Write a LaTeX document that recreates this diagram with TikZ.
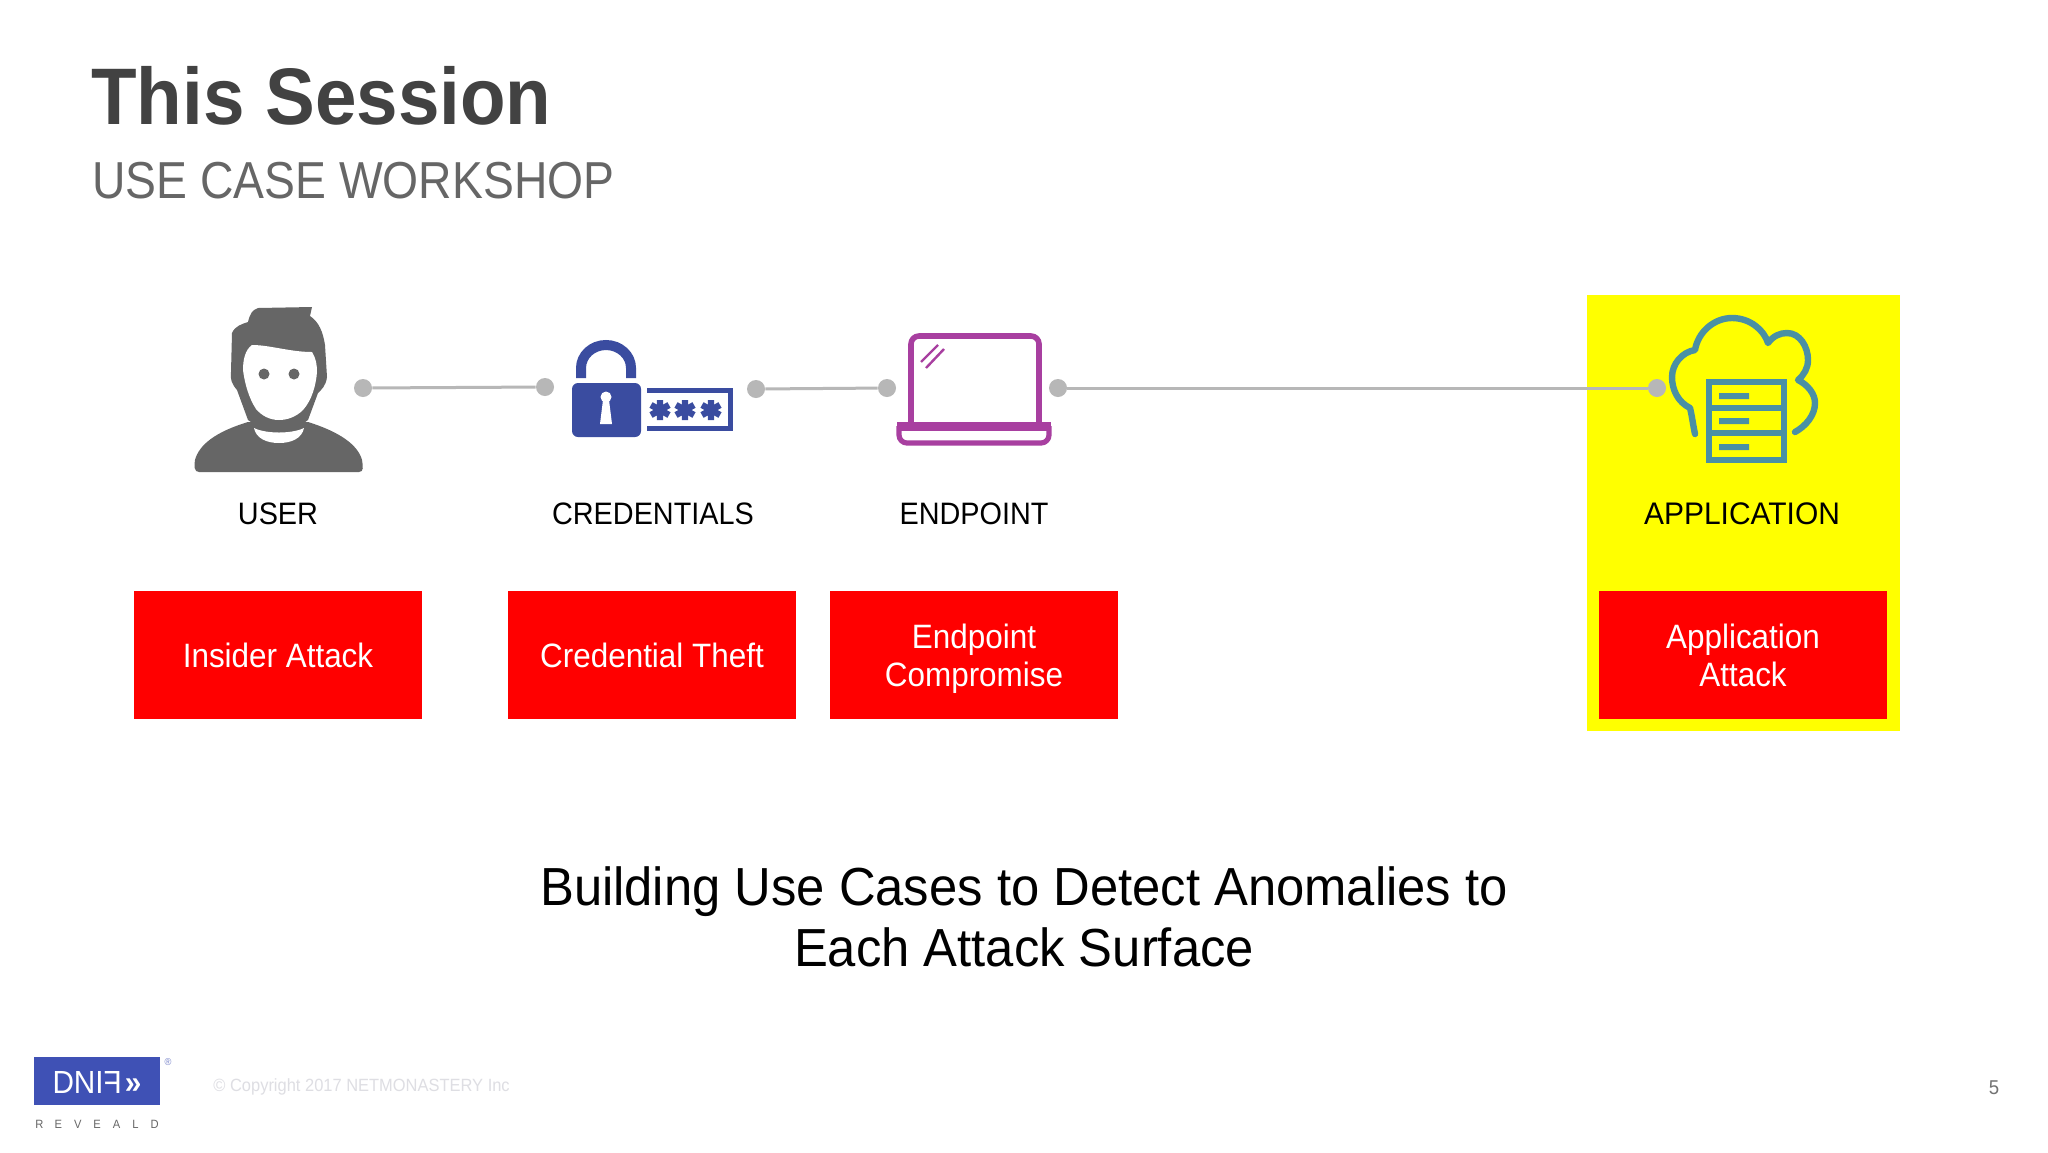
\documentclass[tikz,border=0pt]{standalone}
\usepackage{fontspec}
\setmainfont[FakeStretch=0.93]{Liberation Sans}
\newfontfamily\subfont[FakeStretch=0.89]{Liberation Sans}
\newfontfamily\msgfont[FakeStretch=0.947]{Liberation Sans}
\newfontfamily\appfont[FakeStretch=0.96]{Liberation Sans}
\definecolor{titlegrey}{HTML}{424242}
\definecolor{subgrey}{HTML}{666666}
\definecolor{linegrey}{HTML}{B7B7B7}
\definecolor{persongrey}{HTML}{666666}
\definecolor{lockblue}{HTML}{3A4CA0}
\definecolor{lappurple}{HTML}{A83FA0}
\definecolor{cloudteal}{HTML}{4A90A4}
\definecolor{logoblue}{HTML}{3F51B5}
\definecolor{copygrey}{HTML}{DEDEE3}
\definecolor{hlyellow}{HTML}{FFFF00}
\definecolor{boxred}{HTML}{FF0000}
\tikzset{
  px/.style={x=0.5pt,y=-0.5pt},
  redbox/.style={fill=boxred,text=white,minimum width=144pt,minimum height=64pt,inner sep=0pt,align=center,font=\fontsize{16.9}{18.6}\selectfont},
  dotnode/.style={circle,fill=linegrey,minimum size=9pt,inner sep=0pt},
  linkline/.style={draw=linegrey,line width=1.5pt},
  iconlabel/.style={anchor=base,inner sep=0pt,font=\fontsize{15.5}{18}\selectfont,text=black},
  tealline/.style={draw=cloudteal,line width=3.2pt},
  lapline/.style={draw=lappurple,line width=2.8pt,line join=round},
}
\begin{document}
\begin{tikzpicture}[px]
\useasboundingbox (0,0) rectangle (2048,1152);
\fill[white] (0,0) rectangle (2048,1152);
% title
\node[anchor=base west,inner sep=0pt,text=titlegrey,font=\fontsize{40.1}{44}\bfseries\selectfont] (title) at (91,124) {This Session};
\node[anchor=base west,inner sep=0pt,text=subgrey,font=\subfont\fontsize{26}{30}\selectfont] (subtitle) at (92,198) {USE CASE WORKSHOP};
% yellow highlight
\fill[hlyellow] (1587,295) rectangle (1900,731);
% person
\fill[persongrey] (312,307) -- (310,316) .. controls (319,322) and (323,332) .. (325,345) -- (327,377) .. controls (326,386) and (321,390) .. (318,393) -- (308,420) .. controls (298,428) and (288,430) .. (279,430) .. controls (268,430) and (256,426) .. (248,420) -- (237,390) .. controls (232,384) and (230,380) .. (231,372) -- (232,333) .. controls (235,326) and (242,324) .. (248,322) .. controls (250,314) and (252,310) .. (258,308) -- cycle;
\fill[persongrey] (199,472) .. controls (194,472) and (194,466) .. (195,460) .. controls (199,445) and (215,432) .. (248,422) -- (308,422) .. controls (340,432) and (358,445) .. (362,460) .. controls (363,466) and (364,472) .. (359,472) -- cycle;
\fill[white] (252,345) .. controls (270,345) and (290,352) .. (312,352) .. controls (316,358) and (317,365) .. (317,372) .. controls (316,385) and (312,400) .. (303,410) .. controls (296,417) and (287,420) .. (279,420) .. controls (270,420) and (262,416) .. (256,409) .. controls (249,398) and (245,385) .. (243,370) .. controls (243,360) and (245,350) .. (252,345) -- cycle;
\fill[persongrey] (264,374) circle[radius=5.5] (294,374) circle[radius=5.5];
\fill[white] (254,428) .. controls (266,434) and (292,434) .. (304,428) .. controls (302,438) and (292,443) .. (279,443) .. controls (266,443) and (256,438) .. (254,428) -- cycle;
% lock
\draw[lockblue,line width=5pt] (581,378) -- (581,368) arc[start angle=180,end angle=360,x radius=25,y radius=23] -- (631,378);
\fill[lockblue,rounded corners=3pt] (572,383) rectangle (641,437);
\fill[white] (606,397) circle[radius=5.5];
\fill[white] (603,400) -- (609,400) -- (612,424) -- (600,424) -- cycle;
\fill[white] (647,388) rectangle (733,431);
\draw[lockblue,line width=2.4pt] (647,390.5) -- (730.5,390.5) -- (730.5,428.5) -- (647,428.5);
\foreach \sx in {660,685,711}{
  \draw[lockblue,line width=3.2pt] (\sx,400) -- (\sx,420) (\sx-9,405) -- (\sx+9,415) (\sx-9,415) -- (\sx+9,405);
}
% laptop
\draw[lapline,rounded corners=4pt] (911,423) -- (911,336) -- (1039,336) -- (1039,423);
\fill[white,rounded corners=3pt] (899,426) rectangle (1049,444);
\draw[lapline,rounded corners=4pt,line width=2.6pt] (899,426) -- (899,443) -- (1049,443) -- (1049,426);
\fill[lappurple] (897,422) rectangle (1051,431);
\draw[lappurple,line width=1.2pt] (921,362) -- (938,345) (926,368) -- (944,349);
% cloud with server
\draw[tealline,line cap=round,line join=round] (1695,434) .. controls (1693,425) and (1692,416) .. (1690,408) .. controls (1678,402) and (1672,390) .. (1672,377) .. controls (1672,364) and (1682,352) .. (1695,350) .. controls (1698,332) and (1714,318) .. (1732,318) .. controls (1750,318) and (1764,330) .. (1768,343) .. controls (1773,336) and (1780,333) .. (1787,333) .. controls (1800,333) and (1808,347) .. (1808,360) .. controls (1808,368) and (1804,375) .. (1798,380) .. controls (1808,385) and (1815,394) .. (1815,403) .. controls (1815,415) and (1806,426) .. (1795,432);
\draw[draw=cloudteal,line width=3pt] (1709,382) rectangle (1784,460);
\draw[draw=cloudteal,line width=3pt] (1709,408) -- (1784,408) (1709,433) -- (1784,433);
\fill[cloudteal] (1719,393) rectangle (1749,399) (1719,418) rectangle (1749,424) (1719,444) rectangle (1749,450);
% connectors
\node[dotnode] (d1) at (363,388) {};
\node[dotnode] (d2) at (545,387) {};
\node[dotnode] (d3) at (756,389) {};
\node[dotnode] (d4) at (887,388) {};
\node[dotnode] (d5) at (1058,388) {};
\node[dotnode] (d6) at (1657,388) {};
\draw[linkline] (d1) -- (d2);
\draw[linkline] (d3) -- (d4);
\draw[linkline] (d5) -- (d6);
% icon labels
\node[iconlabel] (luser) at (278,524) {USER};
\node[iconlabel] (lcred) at (653,524) {CREDENTIALS};
\node[iconlabel] (lend) at (974,524) {ENDPOINT};
\node[iconlabel,font=\appfont\fontsize{15.6}{18}\selectfont] (lapp) at (1742,524) {APPLICATION};
% red boxes
\node[redbox] (b1) at (278,655) {Insider Attack};
\node[redbox] (b2) at (652,655) {Credential Theft};
\node[redbox,text depth=0pt] (b3) at (974,655) {\raisebox{0.2pt}{\shortstack{Endpoint\\[0.3pt]Compromise}}};
\node[redbox,text depth=0pt] (b4) at (1743,655) {\raisebox{0.2pt}{\shortstack{Application\\[0.3pt]Attack}}};
% message
\node[inner sep=0pt,align=center,text=black,font=\msgfont\fontsize{26.8}{30.5}\selectfont] (msg) at (1024,917) {Building Use Cases to Detect Anomalies to\\Each Attack Surface};
% footer
\fill[logoblue] (34,1057) rectangle (160,1105);
\node[inner sep=0pt,text=white,font=\fontsize{16}{18}\selectfont] (logo) at (97,1082) {DNI\reflectbox{F}\hspace{1.5pt}\textbf{»}};
\node[inner sep=0pt,text=logoblue!70,font=\fontsize{5}{6}\selectfont] (reg) at (168,1062) {®};
\node[inner sep=0pt,text=black!60,font=\fontsize{6}{7}\selectfont] (reveal) at (97,1124) {R\hspace{5.6pt}E\hspace{6pt}V\hspace{6pt}E\hspace{6pt}A\hspace{6pt}L\hspace{6pt}D};
\node[anchor=base west,inner sep=0pt,text=copygrey,font=\fontsize{8.85}{10}\selectfont] (copy) at (213,1091) {© Copyright 2017 NETMONASTERY Inc};
\node[inner sep=0pt,text=black!55,font=\fontsize{10}{11}\selectfont] (page) at (1994,1088) {5};
\end{tikzpicture}
\end{document}
